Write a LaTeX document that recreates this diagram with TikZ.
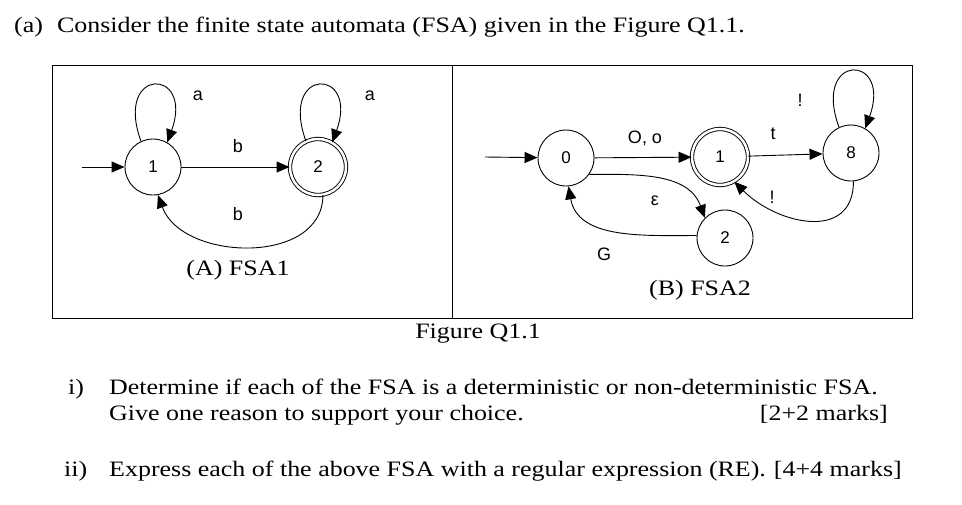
\documentclass[tikz,border=0pt]{standalone}
\usepackage{fontspec}
\setmainfont{Liberation Serif}[FakeStretch=1.18]
\newfontfamily\lsans{Liberation Sans}
\usetikzlibrary{arrows.meta}
\begin{document}
\begin{tikzpicture}[x=1pt,y=-1pt,
  st/.style={circle,draw,line width=0.9pt,minimum size=56pt,inner sep=0pt,font=\lsans\fontsize{17}{17}\selectfont},
  acc/.style={st,double,double distance=2.5pt},
  ed/.style={line width=0.9pt,-{Triangle[length=13pt,width=11pt]}},
  lb/.style={font=\lsans\fontsize{18}{18}\selectfont},
  tx/.style={font=\fontsize{22}{26}\selectfont,anchor=base west,inner sep=0pt}]
\useasboundingbox (0,0) rectangle (962,504);
\draw[line width=0.8pt] (52,65) rectangle (912,318);
\draw[line width=0.8pt] (452,65) -- (452,318);
% FSA1
\node[st] (a1) at (153,167) {1};
\node[acc] (a2) at (318,167) {2};
\coordinate (a0) at (82,167);
\draw[ed] (a0) -- (a1);
\draw[ed] (a1.115) .. controls +(-110:80) and +(-70:80) .. (a1.60);
\draw[ed] (a2.115) .. controls +(-110:80) and +(-70:80) .. (a2.60);
\draw[ed] (a1) -- (a2);
\draw[ed] (a2.-80) to[out=-90,in=-70,looseness=1.1] (a1.-80);
\node[lb] (la1) at (198,96) {a};
\node[lb] (la2) at (370,96) {a};
\node[lb] (lb1) at (238,146) {b};
\node[lb] (lb2) at (238,214) {b};
\node[font=\fontsize{22}{26}\selectfont] (ca) at (238,270) {(A) FSA1};
% FSA2
\node[st] (b0) at (566,158) {0};
\node[acc] (b1) at (720,157) {1};
\node[st] (b8) at (851,153) {8};
\node[st] (b2) at (725,238) {2};
\coordinate (bi) at (485,157);
\draw[ed] (bi) -- (b0);
\draw[ed] (b0) -- (b1);
\draw[ed] (b1) -- (b8);
\draw[ed] (b8.115) .. controls +(-110:80) and +(-70:80) .. (b8.60);
\draw[ed] (b0.-35) to[out=0,in=110] (b2.135);
\draw[ed] (b2.175) to[out=180,in=-80] (b0.-85);
\draw[ed] (b8.-85) to[out=-90,in=-45,looseness=1.3] (b1.-60);
\node[lb] (lo) at (645,138) {O, o};
\node[lb] (lt) at (773,134) {t};
\node[lb] (le1) at (800,100) {!};
\node[lb] (leps) at (655,201) {ε};
\node[lb] (le2) at (772,197) {!};
\node[lb] (lg) at (604,254) {G};
\node[font=\fontsize{22}{26}\selectfont] (cb) at (700,290) {(B) FSA2};
% text
\node[tx] (t0) at (14,32) {(a)\hspace{14pt}Consider the finite state automata (FSA) given in the Figure Q1.1.};
\node[font=\fontsize{22}{26}\selectfont] (fig) at (478,334) {Figure Q1.1};
\node[tx] (t1) at (68,394) {i)};
\node[tx] (t2) at (109,394) {Determine if each of the FSA is a deterministic or non-deterministic FSA.};
\node[tx] (t3) at (109,420) {Give one reason to support your choice.};
\node[tx,anchor=base east] (t4) at (888,420) {[2+2 marks]};
\node[tx] (t5) at (64,476) {ii)};
\node[tx] (t6) at (109,476) {Express each of the above FSA with a regular expression (RE).\hspace{8pt}[4+4 marks]};
\end{tikzpicture}
\end{document}
